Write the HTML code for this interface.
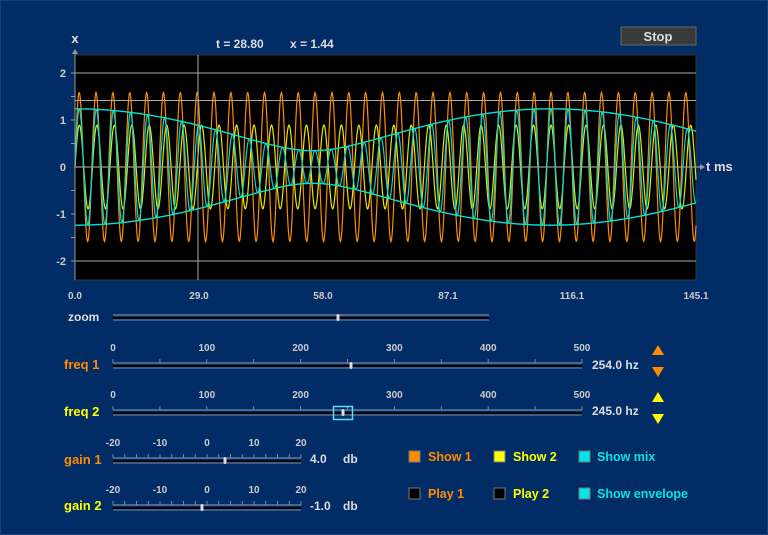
<!DOCTYPE html>
<html><head><meta charset="utf-8">
<style>
body{margin:0;background:#022c66;width:768px;height:535px;overflow:hidden;font-family:"Liberation Sans",sans-serif;font-weight:bold}
svg{position:absolute;left:0;top:0}
</style></head><body>
<svg id="s" width="768" height="535" xmlns="http://www.w3.org/2000/svg" font-family="Liberation Sans, sans-serif" font-weight="bold">
<rect x="0" y="0" width="768" height="535" fill="#022c66"/>
<rect x="0.5" y="0.5" width="767" height="534" fill="none" stroke="#1a3f78"/>
<rect x="621" y="27" width="75" height="18" fill="#3a3a3a" stroke="#666"/>
<text x="658" y="41" fill="#ddd" font-size="13" text-anchor="middle">Stop</text>
<rect x="75" y="55" width="621" height="225" fill="#000" stroke="#333"/>
<g id="waves"></g>
<line x1="75" y1="73" x2="696" y2="73" stroke="#888" stroke-width="1.2"/>
<line x1="75" y1="261" x2="696" y2="261" stroke="#888" stroke-width="1.2"/>
<line x1="75" y1="100.5" x2="696" y2="100.5" stroke="#aaa" stroke-width="1"/>
<line x1="198" y1="55" x2="198" y2="280" stroke="#aaa" stroke-width="1"/>
<line x1="75" y1="167" x2="700" y2="167" stroke="#999" stroke-width="1.2"/>
<polygon points="700,164 705,167 700,170" fill="#999"/>
<line x1="75" y1="53" x2="75" y2="280" stroke="#999" stroke-width="1"/>
<polygon points="72,54 75,49 78,54" fill="#999"/>
<g stroke="#999"><line x1="71" y1="73" x2="75" y2="73"/><line x1="71" y1="96.5" x2="75" y2="96.5"/><line x1="71" y1="120" x2="75" y2="120"/><line x1="71" y1="143.5" x2="75" y2="143.5"/><line x1="71" y1="190.5" x2="75" y2="190.5"/><line x1="71" y1="214" x2="75" y2="214"/><line x1="71" y1="237.5" x2="75" y2="237.5"/><line x1="71" y1="261" x2="75" y2="261"/></g>
<g fill="#ccc" font-size="11" text-anchor="end"><text x="66" y="77">2</text><text x="66" y="124">1</text><text x="66" y="171">0</text><text x="66" y="218">-1</text><text x="66" y="265">-2</text></g>
<text x="75" y="43" fill="#ddd" font-size="13" text-anchor="middle">x</text>
<text x="706" y="171" fill="#ddd" font-size="13">t ms</text>
<text x="216" y="48" fill="#ddd" font-size="12">t = 28.80</text>
<text x="290" y="48" fill="#ddd" font-size="12">x = 1.44</text>
<g fill="#ccc" font-size="10" text-anchor="middle"><text x="75" y="299">0.0</text><text x="199" y="299">29.0</text><text x="323" y="299">58.0</text><text x="448" y="299">87.1</text><text x="572" y="299">116.1</text><text x="696" y="299">145.1</text></g>
<g id="sl"></g>
<text x="68" y="321" fill="#ddd" font-size="12">zoom</text>
<text x="64" y="369" fill="#ff8c00" font-size="13">freq 1</text>
<text x="64" y="416" fill="#ffff00" font-size="13">freq 2</text>
<text x="64" y="464" fill="#ff8c00" font-size="13">gain 1</text>
<text x="64" y="510" fill="#ffff00" font-size="13">gain 2</text>
<g fill="#ddd" font-size="12"><text x="592" y="369">254.0 hz</text><text x="592" y="415">245.0 hz</text><text x="310" y="463">4.0</text><text x="343" y="463">db</text><text x="310" y="510">-1.0</text><text x="343" y="510">db</text></g>
<polygon points="652,355 664,355 658,345" fill="#ff8c00"/><polygon points="652,367 664,367 658,377" fill="#ff8c00"/>
<polygon points="652,402 664,402 658,392" fill="#ffff00"/><polygon points="652,414 664,414 658,424" fill="#ffff00"/>
<rect x="333.5" y="406.5" width="19" height="13" fill="none" stroke="#5ce0f0" stroke-width="1.5"/>
<g stroke="#777" stroke-width="1"><rect x="409" y="451" width="11" height="11" fill="#ff8c00"/><rect x="494" y="451" width="11" height="11" fill="#ffff00"/><rect x="579" y="451" width="11" height="11" fill="#00e5e5"/><rect x="409" y="488" width="11" height="11" fill="#000"/><rect x="494" y="488" width="11" height="11" fill="#000"/><rect x="579" y="488" width="11" height="11" fill="#00e5e5"/></g>
<g font-size="12.5"><text x="428" y="461" fill="#ff8c00">Show 1</text><text x="513" y="461" fill="#ffff00">Show 2</text><text x="597" y="461" fill="#00e5e5">Show mix</text><text x="428" y="498" fill="#ff8c00">Play 1</text><text x="513" y="498" fill="#ffff00">Play 2</text><text x="597" y="498" fill="#00e5e5">Show envelope</text></g>
</svg>
<script>
var NS="http://www.w3.org/2000/svg";
function el(p,t,a){var e=document.createElementNS(NS,t);for(var k in a)e.setAttribute(k,a[k]);p.appendChild(e);return e;}
var W=document.getElementById("waves");
var x0=75,sx=621/145.1,y0=167,sy=47;
var a1=Math.pow(10,4/20),a2=Math.pow(10,-1/20),f1=0.254,f2=0.245;
function path(fn){var d="";for(var px=0;px<=621;px+=0.5){var t=px/sx;var y=y0-fn(t)*sy;d+=(px?"L":"M")+(x0+px).toFixed(1)+","+y.toFixed(1);}return d;}
el(W,"path",{d:path(function(t){return a1*Math.sin(2*Math.PI*f1*t);}),fill:"none",stroke:"#ff8c00","stroke-width":1.2});
el(W,"path",{d:path(function(t){return a2*Math.sin(2*Math.PI*f2*t);}),fill:"none",stroke:"#e8e800","stroke-width":1.2});
el(W,"path",{d:path(function(t){return (a1*Math.sin(2*Math.PI*f1*t)+a2*Math.sin(2*Math.PI*f2*t))/2;}),fill:"none",stroke:"#00d8d8","stroke-width":1.2});
function env(t){var b=2*Math.PI*(f1-f2)*t;return Math.sqrt(a1*a1+a2*a2+2*a1*a2*Math.cos(b))/2;}
el(W,"path",{d:path(env),fill:"none",stroke:"#00e0e0","stroke-width":1.4});
el(W,"path",{d:path(function(t){return -env(t);}),fill:"none",stroke:"#00e0e0","stroke-width":1.4});
var S=document.getElementById("sl");
function slider(x1,x2,y,th,labels,vals,minor){
 el(S,"line",{x1:x1,y1:y-3,x2:x2,y2:y-3,stroke:"#7a8aa8","stroke-width":1.2});
 el(S,"line",{x1:x1,y1:y,x2:x2,y2:y,stroke:"#000","stroke-width":2});
 el(S,"line",{x1:x1,y1:y+2,x2:x2,y2:y+2,stroke:"#7a8aa8","stroke-width":1});
 if(labels){for(var i=0;i<labels.length;i++){var x=x1+(x2-x1)*i/(labels.length-1);
  var tt=el(S,"text",{x:x,y:y-15,fill:"#ccc","font-size":10,"text-anchor":"middle"});tt.textContent=labels[i];}
  for(var j=0;j<=minor;j++){var x=x1+(x2-x1)*j/minor;el(S,"line",{x1:x,y1:y-3,x2:x,y2:y-7,stroke:"#7a8aa8"});}}
 el(S,"rect",{x:th-1.5,y:y-4,width:3,height:7,rx:1.5,fill:"#ddd"});
}
slider(113,489,318,338,null);
slider(113,582,366,351,["0","100","200","300","400","500"],0,10);
slider(113,582,413,343,["0","100","200","300","400","500"],0,10);
slider(113,301,461,225,["-20","-10","0","10","20"],0,16);
slider(113,301,508,202,["-20","-10","0","10","20"],0,16);
</script>
</body></html>
